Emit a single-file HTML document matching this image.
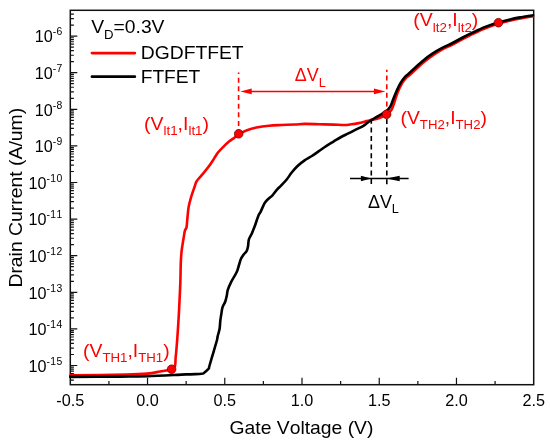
<!DOCTYPE html>
<html><head><meta charset="utf-8"><style>
html,body{margin:0;padding:0;background:#fff;}
svg{display:block;}
text{font-family:"Liberation Sans", sans-serif;font-kerning:none;}
</style></head><body>
<svg width="550" height="445" viewBox="0 0 550 445">
<rect width="550" height="445" fill="#fff"/>
<path d="M70.30 380.06h3.6 M70.30 376.52h3.6 M70.30 373.62h3.6 M70.30 371.17h3.6 M70.30 369.05h3.6 M70.30 367.17h3.6 M70.30 365.50h7 M70.30 354.48h3.6 M70.30 348.04h3.6 M70.30 343.46h3.6 M70.30 339.92h3.6 M70.30 337.02h3.6 M70.30 334.57h3.6 M70.30 332.45h3.6 M70.30 330.57h3.6 M70.30 328.90h7 M70.30 317.88h3.6 M70.30 311.44h3.6 M70.30 306.86h3.6 M70.30 303.32h3.6 M70.30 300.42h3.6 M70.30 297.97h3.6 M70.30 295.85h3.6 M70.30 293.97h3.6 M70.30 292.30h7 M70.30 281.28h3.6 M70.30 274.84h3.6 M70.30 270.26h3.6 M70.30 266.72h3.6 M70.30 263.82h3.6 M70.30 261.37h3.6 M70.30 259.25h3.6 M70.30 257.37h3.6 M70.30 255.70h7 M70.30 244.68h3.6 M70.30 238.24h3.6 M70.30 233.66h3.6 M70.30 230.12h3.6 M70.30 227.22h3.6 M70.30 224.77h3.6 M70.30 222.65h3.6 M70.30 220.77h3.6 M70.30 219.10h7 M70.30 208.08h3.6 M70.30 201.64h3.6 M70.30 197.06h3.6 M70.30 193.52h3.6 M70.30 190.62h3.6 M70.30 188.17h3.6 M70.30 186.05h3.6 M70.30 184.17h3.6 M70.30 182.50h7 M70.30 171.48h3.6 M70.30 165.04h3.6 M70.30 160.46h3.6 M70.30 156.92h3.6 M70.30 154.02h3.6 M70.30 151.57h3.6 M70.30 149.45h3.6 M70.30 147.57h3.6 M70.30 145.90h7 M70.30 134.88h3.6 M70.30 128.44h3.6 M70.30 123.86h3.6 M70.30 120.32h3.6 M70.30 117.42h3.6 M70.30 114.97h3.6 M70.30 112.85h3.6 M70.30 110.97h3.6 M70.30 109.30h7 M70.30 98.28h3.6 M70.30 91.84h3.6 M70.30 87.26h3.6 M70.30 83.72h3.6 M70.30 80.82h3.6 M70.30 78.37h3.6 M70.30 76.25h3.6 M70.30 74.37h3.6 M70.30 72.70h7 M70.30 61.68h3.6 M70.30 55.24h3.6 M70.30 50.66h3.6 M70.30 47.12h3.6 M70.30 44.22h3.6 M70.30 41.77h3.6 M70.30 39.65h3.6 M70.30 37.77h3.6 M70.30 36.10h7 M70.30 25.08h3.6 M70.30 18.64h3.6 M70.30 14.06h3.6 M108.92 384.70v-3.6 M147.53 384.70v-7 M186.15 384.70v-3.6 M224.77 384.70v-7 M263.38 384.70v-3.6 M302.00 384.70v-7 M340.62 384.70v-3.6 M379.23 384.70v-7 M417.85 384.70v-3.6 M456.47 384.70v-7 M495.08 384.70v-3.6" stroke="#111" stroke-width="1.2" fill="none"/>
<rect x="70.3" y="10.3" width="463.40" height="374.40" fill="none" stroke="#111" stroke-width="1.5"/>
<text transform="translate(62.7 42.30) scale(1.01 1)" text-anchor="end" font-size="16">10<tspan font-size="10.3" dy="-7.0" letter-spacing="0.4">-6</tspan></text>
<text transform="translate(62.7 78.90) scale(1.01 1)" text-anchor="end" font-size="16">10<tspan font-size="10.3" dy="-7.0" letter-spacing="0.4">-7</tspan></text>
<text transform="translate(62.7 115.50) scale(1.01 1)" text-anchor="end" font-size="16">10<tspan font-size="10.3" dy="-7.0" letter-spacing="0.4">-8</tspan></text>
<text transform="translate(62.7 152.10) scale(1.01 1)" text-anchor="end" font-size="16">10<tspan font-size="10.3" dy="-7.0" letter-spacing="0.4">-9</tspan></text>
<text transform="translate(62.7 188.70) scale(1.01 1)" text-anchor="end" font-size="16">10<tspan font-size="10.3" dy="-7.0" letter-spacing="0.4">-10</tspan></text>
<text transform="translate(62.7 225.30) scale(1.01 1)" text-anchor="end" font-size="16">10<tspan font-size="10.3" dy="-7.0" letter-spacing="0.4">-11</tspan></text>
<text transform="translate(62.7 261.90) scale(1.01 1)" text-anchor="end" font-size="16">10<tspan font-size="10.3" dy="-7.0" letter-spacing="0.4">-12</tspan></text>
<text transform="translate(62.7 298.50) scale(1.01 1)" text-anchor="end" font-size="16">10<tspan font-size="10.3" dy="-7.0" letter-spacing="0.4">-13</tspan></text>
<text transform="translate(62.7 335.10) scale(1.01 1)" text-anchor="end" font-size="16">10<tspan font-size="10.3" dy="-7.0" letter-spacing="0.4">-14</tspan></text>
<text transform="translate(62.7 371.70) scale(1.01 1)" text-anchor="end" font-size="16">10<tspan font-size="10.3" dy="-7.0" letter-spacing="0.4">-15</tspan></text>
<text transform="translate(70.30 406.1) scale(1.04 1)" text-anchor="middle" font-size="15.6">-0.5</text>
<text transform="translate(147.53 406.1) scale(1.04 1)" text-anchor="middle" font-size="15.6">0.0</text>
<text transform="translate(224.77 406.1) scale(1.04 1)" text-anchor="middle" font-size="15.6">0.5</text>
<text transform="translate(302.00 406.1) scale(1.04 1)" text-anchor="middle" font-size="15.6">1.0</text>
<text transform="translate(379.23 406.1) scale(1.04 1)" text-anchor="middle" font-size="15.6">1.5</text>
<text transform="translate(456.47 406.1) scale(1.04 1)" text-anchor="middle" font-size="15.6">2.0</text>
<text transform="translate(533.70 406.1) scale(1.04 1)" text-anchor="middle" font-size="15.6">2.5</text>
<text transform="translate(229.48 433.6) scale(1.018 1)" font-size="19">Gate Voltage (V)</text>
<text transform="translate(21.6 286.4) rotate(-90) scale(1.02 1)" x="-1.2" font-size="19">Drain Current (A/um)</text>
<path d="M70.30 375.40C79.58 375.27 113.15 374.90 126.00 374.60C138.85 374.30 141.73 374.12 147.40 373.60C153.07 373.08 155.97 372.23 160.00 371.50C164.03 370.77 169.10 370.12 171.60 369.20C174.10 368.28 174.33 367.87 175.00 366.00C175.67 364.13 175.40 360.33 175.60 358.00C175.80 355.67 175.92 355.25 176.20 352.00C176.48 348.75 176.92 343.83 177.30 338.50C177.68 333.17 178.18 325.22 178.50 320.00C178.82 314.78 178.90 313.27 179.20 307.20C179.50 301.13 180.03 291.05 180.30 283.60C180.57 276.15 180.60 267.75 180.80 262.50C181.00 257.25 181.20 255.15 181.50 252.10C181.80 249.05 182.23 246.63 182.60 244.20C182.97 241.77 183.32 239.75 183.70 237.50C184.08 235.25 184.43 232.38 184.90 230.70C185.37 229.02 186.13 228.90 186.50 227.40C186.87 225.90 186.90 223.77 187.10 221.70C187.30 219.63 187.45 217.42 187.70 215.00C187.95 212.58 188.18 209.63 188.60 207.20C189.02 204.77 189.60 202.65 190.20 200.40C190.80 198.15 191.52 195.83 192.20 193.70C192.88 191.57 193.62 189.58 194.30 187.60C194.98 185.62 195.52 183.37 196.30 181.80C197.08 180.23 197.77 179.70 199.00 178.20C200.23 176.70 202.02 174.82 203.70 172.80C205.38 170.78 207.35 168.50 209.10 166.10C210.85 163.70 212.68 160.70 214.20 158.40C215.72 156.10 216.68 154.23 218.20 152.30C219.72 150.37 221.45 148.63 223.30 146.80C225.15 144.97 227.45 142.82 229.30 141.30C231.15 139.78 232.83 138.90 234.40 137.70C235.97 136.50 236.60 135.35 238.70 134.10C240.80 132.85 244.03 131.30 247.00 130.20C249.97 129.10 252.83 128.25 256.50 127.50C260.17 126.75 264.82 126.12 269.00 125.70C273.18 125.28 277.27 125.20 281.60 125.00C285.93 124.80 291.17 124.68 295.00 124.50C298.83 124.32 300.57 123.95 304.60 123.90C308.63 123.85 314.33 124.08 319.20 124.20C324.07 124.32 329.67 124.47 333.80 124.60C337.93 124.73 341.08 125.05 344.00 125.00C346.92 124.95 348.87 124.62 351.30 124.30C353.73 123.98 356.40 123.53 358.60 123.10C360.80 122.67 362.60 122.18 364.50 121.70C366.40 121.22 367.65 120.78 370.00 120.20C372.35 119.62 375.85 119.18 378.60 118.20C381.35 117.22 384.40 115.62 386.50 114.30C388.60 112.98 389.90 112.27 391.20 110.30C392.50 108.33 393.23 105.48 394.30 102.50C395.37 99.52 396.38 95.48 397.60 92.40C398.82 89.32 400.12 86.48 401.60 84.00C403.08 81.52 405.30 78.87 406.50 77.50C407.70 76.13 407.15 77.25 408.80 75.80C410.45 74.35 413.82 71.13 416.40 68.80C418.98 66.47 421.40 64.13 424.30 61.80C427.20 59.47 430.65 56.95 433.80 54.80C436.95 52.65 440.07 50.60 443.20 48.90C446.33 47.20 449.22 46.32 452.60 44.60C455.98 42.88 460.38 40.25 463.50 38.60C466.62 36.95 468.72 35.95 471.30 34.70C473.88 33.45 476.43 32.27 479.00 31.10C481.57 29.93 483.40 28.95 486.70 27.70C490.00 26.45 495.00 24.75 498.80 23.60C502.60 22.45 505.93 21.65 509.50 20.80C513.07 19.95 516.28 19.25 520.20 18.50C524.12 17.75 530.87 16.67 533.00 16.30" fill="none" stroke="#f00" stroke-width="2.6" stroke-linejoin="round" stroke-linecap="round"/>
<path d="M70.30 376.90C78.58 376.85 107.15 376.72 120.00 376.60C132.85 376.48 136.40 376.57 147.40 376.20C158.40 375.83 176.95 374.80 186.00 374.40C195.05 374.00 198.63 374.12 201.70 373.80C204.77 373.48 203.50 373.10 204.40 372.50C205.30 371.90 206.35 370.90 207.10 370.20C207.85 369.50 208.52 369.00 208.90 368.30C209.28 367.60 208.68 368.53 209.40 366.00C210.12 363.47 211.93 357.43 213.20 353.10C214.47 348.77 216.27 342.75 217.00 340.00C217.73 337.25 217.17 338.48 217.60 336.60C218.03 334.72 219.15 331.33 219.60 328.70C220.05 326.07 220.02 323.23 220.30 320.80C220.58 318.37 220.93 316.33 221.30 314.10C221.67 311.87 221.85 309.47 222.50 307.40C223.15 305.33 224.47 303.77 225.20 301.70C225.93 299.63 226.47 296.97 226.90 295.00C227.33 293.03 227.08 292.10 227.80 289.90C228.52 287.70 229.73 284.73 231.20 281.80C232.67 278.87 235.30 275.10 236.60 272.30C237.90 269.50 238.30 267.18 239.00 265.00C239.70 262.82 240.05 260.92 240.80 259.20C241.55 257.48 242.53 256.05 243.50 254.70C244.47 253.35 245.85 252.45 246.60 251.10C247.35 249.75 247.62 248.55 248.00 246.60C248.38 244.65 248.30 241.50 248.90 239.40C249.50 237.30 250.85 235.65 251.60 234.00C252.35 232.35 252.80 231.00 253.40 229.50C254.00 228.00 254.38 227.27 255.20 225.00C256.02 222.73 257.38 218.13 258.30 215.90C259.22 213.67 259.65 213.73 260.70 211.60C261.75 209.47 263.38 205.17 264.60 203.10C265.82 201.03 266.68 200.50 268.00 199.20C269.32 197.90 271.00 196.88 272.50 195.30C274.00 193.72 275.50 191.38 277.00 189.70C278.50 188.02 279.82 186.98 281.50 185.20C283.18 183.42 285.43 181.07 287.10 179.00C288.77 176.93 289.80 174.93 291.50 172.80C293.20 170.67 295.12 168.27 297.30 166.20C299.48 164.13 302.17 162.10 304.60 160.40C307.03 158.70 309.47 157.58 311.90 156.00C314.33 154.42 316.77 152.60 319.20 150.90C321.63 149.20 324.07 147.38 326.50 145.80C328.93 144.22 331.37 142.87 333.80 141.40C336.23 139.93 338.67 138.33 341.10 137.00C343.53 135.67 345.97 134.62 348.40 133.40C350.83 132.18 353.27 130.92 355.70 129.70C358.13 128.48 360.82 127.43 363.00 126.10C365.18 124.77 366.97 122.97 368.80 121.70C370.63 120.43 372.37 119.48 374.00 118.50C375.63 117.52 376.52 117.03 378.60 115.80C380.68 114.57 384.53 112.67 386.50 111.10C388.47 109.53 389.23 108.50 390.40 106.40C391.57 104.30 392.45 101.12 393.50 98.50C394.55 95.88 395.52 93.32 396.70 90.70C397.88 88.08 399.17 85.17 400.60 82.80C402.03 80.43 404.13 77.87 405.30 76.50C406.47 75.13 405.92 76.10 407.60 74.60C409.28 73.10 412.78 69.87 415.40 67.50C418.02 65.13 420.40 62.75 423.30 60.40C426.20 58.05 429.65 55.48 432.80 53.40C435.95 51.32 439.07 49.55 442.20 47.90C445.33 46.25 448.18 45.23 451.60 43.50C455.02 41.77 459.55 39.15 462.70 37.50C465.85 35.85 467.92 34.85 470.50 33.60C473.08 32.35 475.63 31.17 478.20 30.00C480.77 28.83 482.55 27.85 485.90 26.60C489.25 25.35 494.43 23.65 498.30 22.50C502.17 21.35 505.50 20.55 509.10 19.70C512.70 18.85 515.92 18.15 519.90 17.40C523.88 16.65 530.82 15.57 533.00 15.20" fill="none" stroke="#000" stroke-width="2.6" stroke-linejoin="round" stroke-linecap="round"/>
<path d="M238.6 72.5V133.5" stroke="#f00" stroke-width="1.6" stroke-dasharray="5 3.65" stroke-dashoffset="3.45" fill="none"/>
<path d="M386.8 69.8V114.3" stroke="#f00" stroke-width="1.6" stroke-dasharray="5 3.65" stroke-dashoffset="2.9" fill="none"/>
<path d="M371.3 184V120" stroke="#000" stroke-width="1.6" stroke-dasharray="5 3.6" fill="none"/>
<path d="M386.8 184.2V116" stroke="#000" stroke-width="1.6" stroke-dasharray="5 3.6" fill="none"/>
<path d="M250 91.4H375" stroke="#f00" stroke-width="1.5"/>
<path d="M240.3 91.4L251.7 88.5V94.3Z M385.4 91.4L373.9 88.5V94.3Z" fill="#f00"/>
<path d="M350 178.5H408.6" stroke="#000" stroke-width="1.5"/>
<path d="M371.2 178.5L360.9 175.7V181.3Z M386.4 178.5L399.7 175.7V181.3Z" fill="#000"/>
<circle cx="171.6" cy="369.2" r="4.3" fill="#f00" stroke="#700" stroke-width="0.8"/>
<circle cx="238.7" cy="133.8" r="4.3" fill="#f00" stroke="#700" stroke-width="0.8"/>
<circle cx="386.6" cy="114.3" r="4.3" fill="#f00" stroke="#700" stroke-width="0.8"/>
<circle cx="498.4" cy="22.7" r="4.3" fill="#f00" stroke="#700" stroke-width="0.8"/>
<path d="M92 53.1H134.8" stroke="#f00" stroke-width="2.8" stroke-linecap="round"/>
<path d="M92 76.7H134.8" stroke="#000" stroke-width="2.8" stroke-linecap="round"/>
<text transform="translate(91.2 33.4) scale(1.015 1)" font-size="19">V<tspan font-size="13" dy="5.2">D</tspan><tspan dy="-5.2">=0.3V</tspan></text>
<text transform="translate(140.78 59.1) scale(1.016 1)" font-size="19">DGDFTFET</text>
<text transform="translate(140.69 83.2) scale(1.01 1)" font-size="19">FTFET</text>
<text transform="translate(144.08 130.0) scale(1.025 1)" font-size="19" style="fill:#f00">(V<tspan font-size="13" dy="5.4">lt1</tspan><tspan dy="-5.4">,I</tspan><tspan font-size="13" dy="5.4">lt1</tspan><tspan dy="-5.4">)</tspan></text>
<text transform="translate(400.58 123.6) scale(1.016 1)" font-size="19" style="fill:#f00">(V<tspan font-size="13" dy="5.4">TH2</tspan><tspan dy="-5.4">,I</tspan><tspan font-size="13" dy="5.4">TH2</tspan><tspan dy="-5.4">)</tspan></text>
<text transform="translate(83.08 357.0) scale(1.018 1)" font-size="19" style="fill:#f00">(V<tspan font-size="13" dy="5.4">TH1</tspan><tspan dy="-5.4">,I</tspan><tspan font-size="13" dy="5.4">TH1</tspan><tspan dy="-5.4">)</tspan></text>
<text transform="translate(413.37 26.2) scale(1.026 1)" font-size="19" style="fill:#f00">(V<tspan font-size="13" dy="5.4">lt2</tspan><tspan dy="-5.4">,I</tspan><tspan font-size="13" dy="5.4">lt2</tspan><tspan dy="-5.4">)</tspan></text>
<text transform="translate(294.8 81.3) scale(0.945 1)" font-size="19" style="fill:#f00">ΔV<tspan font-size="13.5" dy="5.4">L</tspan></text>
<text transform="translate(367.9 207.5) scale(0.945 1)" font-size="19">ΔV<tspan font-size="13.5" dy="5.4">L</tspan></text>
</svg></body></html>
